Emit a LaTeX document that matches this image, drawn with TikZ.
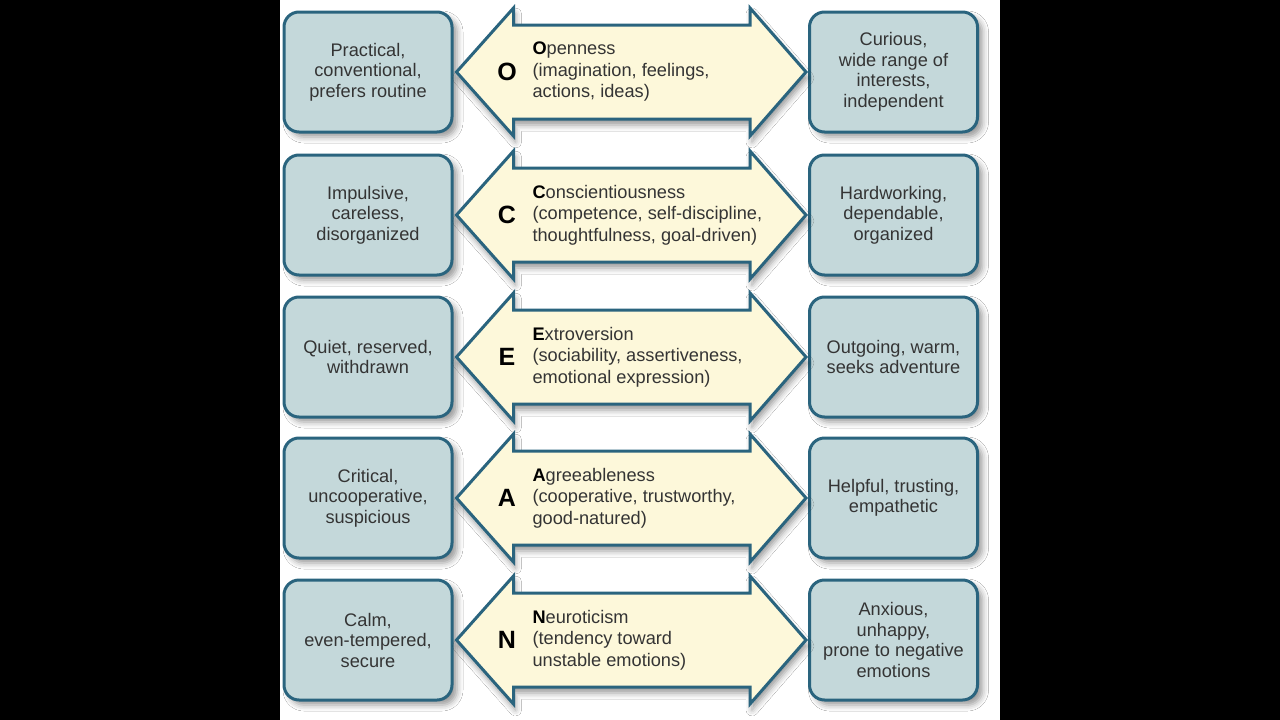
\documentclass[tikz,border=0pt]{standalone}
\usepackage{fontspec}
\setmainfont{Liberation Sans}
\usetikzlibrary{positioning,calc,shadows.blur}
\definecolor{TraitTeal}{RGB}{42,100,126}
\definecolor{PoleFill}{RGB}{196,216,218}
\definecolor{ArrowCream}{RGB}{253,248,218}
\definecolor{TextGrey}{RGB}{52,52,52}

\tikzset{
  pole/.style={draw=TraitTeal, line width=3pt, rounded corners=15pt,
    fill=PoleFill, minimum width=168pt, minimum height=120pt, align=center,
    text=TextGrey, font=\fontsize{18.2}{20.5}\selectfont,
    blur shadow={shadow xshift=5pt, shadow yshift=-5pt, shadow blur radius=6pt}},
  span/.style={draw=TraitTeal, line width=3pt, fill=ArrowCream, line join=miter,
    blur shadow={shadow xshift=2pt, shadow yshift=-6pt, shadow blur radius=6pt}},
  initial/.style={font=\fontsize{25}{25}\selectfont\bfseries, text=black},
  facet/.style={anchor=west, align=left, text=TextGrey,
    font=\fontsize{18.2}{21.5}\selectfont},
}
\newcommand{\lead}[1]{\textbf{\color{black}#1}}

\begin{document}
\begin{tikzpicture}[x=1pt, y=-1pt]
  \useasboundingbox (0,0) rectangle (1280,720);
  \fill[black] (0,0) rectangle (1280,720);
  \fill[white] (280,0) rectangle (1000,720);

  % Openness
  \node[pole] (lowO) at (368,72) {Practical,\\conventional,\\prefers routine};
  \node[pole] (highO) at (893.5,72) {Curious,\\wide range of\\interests,\\independent};
  \draw[span] ($(lowO.east)+(3,0)$) -- ++(57,-64) -- ++(0,17)
    -- ($(highO.west)+(-58,-47)$) -- ++(0,-17) -- ($(highO.west)+(-2,0)$)
    -- ++(-56,64) -- ++(0,-17) -- ($(lowO.east)+(60,47)$) -- ++(0,17) -- cycle;
  \node[initial] (letO) at (507,72) {O};
  \node[facet] (textO) at (529,72) {\lead{O}penness\\(imagination, feelings,\\actions, ideas)};

  % Conscientiousness
  \node[pole] (lowC) at (368,215) {Impulsive,\\careless,\\disorganized};
  \node[pole] (highC) at (893.5,215) {Hardworking,\\dependable,\\organized};
  \draw[span] ($(lowC.east)+(3,0)$) -- ++(57,-64) -- ++(0,17)
    -- ($(highC.west)+(-58,-47)$) -- ++(0,-17) -- ($(highC.west)+(-2,0)$)
    -- ++(-56,64) -- ++(0,-17) -- ($(lowC.east)+(60,47)$) -- ++(0,17) -- cycle;
  \node[initial] (letC) at (507,215) {C};
  \node[facet] (textC) at (529,215) {\lead{C}onscientiousness\\(competence, self-discipline,\\thoughtfulness, goal-driven)};

  % Extroversion
  \node[pole] (lowE) at (368,357) {Quiet, reserved,\\withdrawn};
  \node[pole] (highE) at (893.5,357) {Outgoing, warm,\\seeks adventure};
  \draw[span] ($(lowE.east)+(3,0)$) -- ++(57,-64) -- ++(0,17)
    -- ($(highE.west)+(-58,-47)$) -- ++(0,-17) -- ($(highE.west)+(-2,0)$)
    -- ++(-56,64) -- ++(0,-17) -- ($(lowE.east)+(60,47)$) -- ++(0,17) -- cycle;
  \node[initial] (letE) at (507,357) {E};
  \node[facet] (textE) at (529,357) {\lead{E}xtroversion\\(sociability, assertiveness,\\emotional expression)};

  % Agreeableness
  \node[pole] (lowA) at (368,498) {Critical,\\uncooperative,\\suspicious};
  \node[pole] (highA) at (893.5,498) {Helpful, trusting,\\empathetic};
  \draw[span] ($(lowA.east)+(3,0)$) -- ++(57,-64) -- ++(0,17)
    -- ($(highA.west)+(-58,-47)$) -- ++(0,-17) -- ($(highA.west)+(-2,0)$)
    -- ++(-56,64) -- ++(0,-17) -- ($(lowA.east)+(60,47)$) -- ++(0,17) -- cycle;
  \node[initial] (letA) at (507,498) {A};
  \node[facet] (textA) at (529,498) {\lead{A}greeableness\\(cooperative, trustworthy,\\good-natured)};

  % Neuroticism
  \node[pole] (lowN) at (368,640) {Calm,\\even-tempered,\\secure};
  \node[pole] (highN) at (893.5,640) {Anxious,\\unhappy,\\prone to negative\\emotions};
  \draw[span] ($(lowN.east)+(3,0)$) -- ++(57,-64) -- ++(0,17)
    -- ($(highN.west)+(-58,-47)$) -- ++(0,-17) -- ($(highN.west)+(-2,0)$)
    -- ++(-56,64) -- ++(0,-17) -- ($(lowN.east)+(60,47)$) -- ++(0,17) -- cycle;
  \node[initial] (letN) at (507,640) {N};
  \node[facet] (textN) at (529,640) {\lead{N}euroticism\\(tendency toward\\unstable emotions)};
\end{tikzpicture}
\end{document}
